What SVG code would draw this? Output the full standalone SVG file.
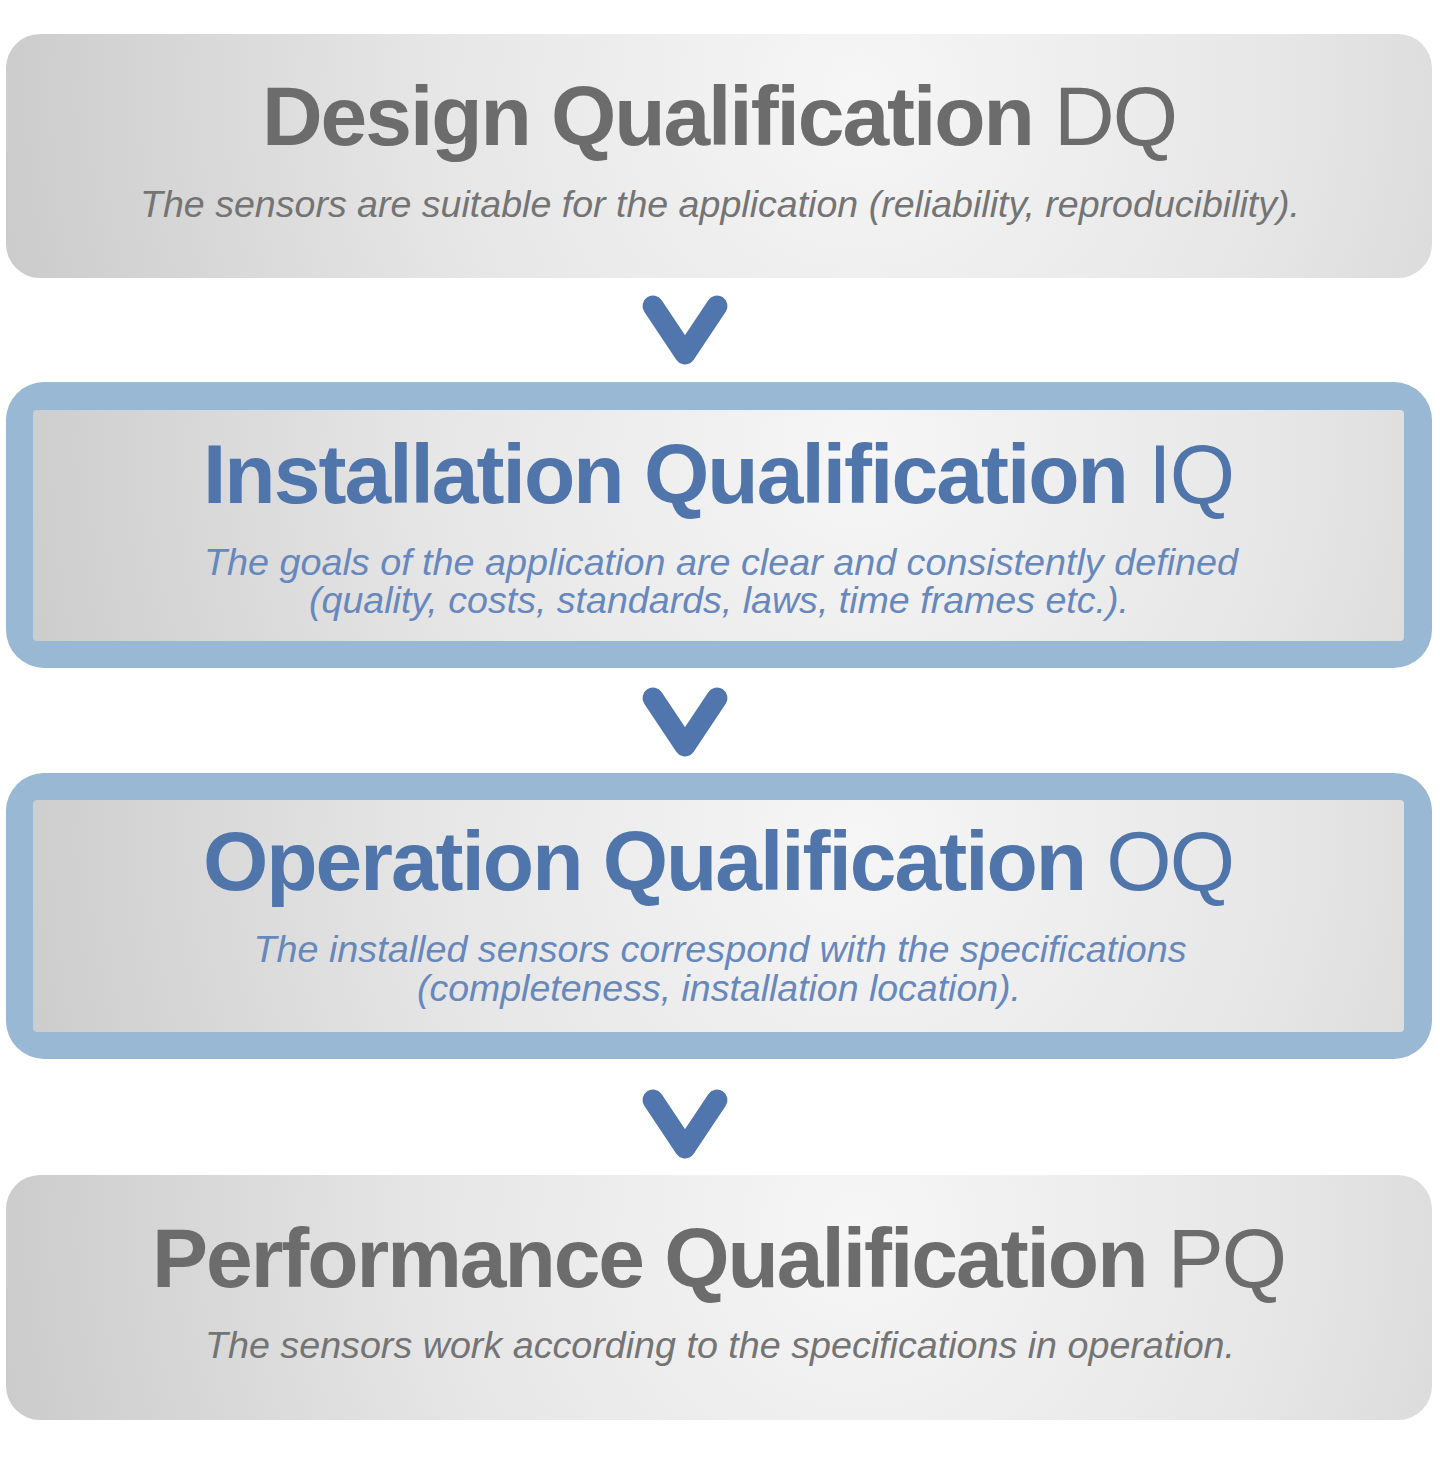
<svg xmlns="http://www.w3.org/2000/svg" width="1440" height="1457" viewBox="0 0 1440 1457">
<defs>
<radialGradient id="g1" gradientUnits="userSpaceOnUse" cx="860" cy="90" r="860">
<stop offset="0" stop-color="#f6f6f6"/>
<stop offset="0.5" stop-color="#e6e6e6"/>
<stop offset="1" stop-color="#cccccc"/>
</radialGradient>
<radialGradient id="g2" href="#g1" cx="860" cy="450" r="860"/>
<radialGradient id="g3" href="#g1" cx="860" cy="840" r="860"/>
<radialGradient id="g4" href="#g1" cx="860" cy="1230" r="860"/>
</defs>
<style>
.title{font-family:"Liberation Sans",Arial,Helvetica,sans-serif;font-size:84px;text-anchor:middle}
.b{font-weight:bold}
.r{font-weight:normal}
.sub{font-family:"Liberation Sans",Arial,Helvetica,sans-serif;font-size:36px;font-style:italic;text-anchor:middle}
.gray .title{fill:#6c6c6c}
.gray .sub{fill:#747474}
.blue .title{fill:#4f75ab}
.blue .sub{fill:#6788bd}
.frame{fill:#98b8d4}
.arrow{fill:none;stroke:#5176ad;stroke-width:21;stroke-linecap:round;stroke-linejoin:round}
</style>
<rect width="1440" height="1457" fill="#ffffff"/>

<g id="node-dq" class="gray">
<rect fill="url(#g1)" x="6" y="34" width="1426" height="244" rx="34"/>
<text class="title" x="720" y="145" textLength="916" lengthAdjust="spacing"><tspan class="b">Design Qualification </tspan><tspan class="r">DQ</tspan></text>
<text class="sub" x="720" y="217" textLength="1160" lengthAdjust="spacingAndGlyphs">The sensors are suitable for the application (reliability, reproducibility).</text>
</g>

<g id="node-iq" class="blue">
<rect class="frame" x="6" y="382" width="1426" height="286" rx="38"/>
<rect fill="url(#g2)" x="33" y="410" width="1371" height="231" rx="4"/>
<text class="title" x="719" y="503" textLength="1032" lengthAdjust="spacing"><tspan class="b">Installation Qualification </tspan><tspan class="r">IQ</tspan></text>
<text class="sub" x="721" y="575" textLength="1034" lengthAdjust="spacingAndGlyphs">The goals of the application are clear and consistently defined</text>
<text class="sub" x="719" y="613" textLength="820" lengthAdjust="spacingAndGlyphs">(quality, costs, standards, laws, time frames etc.).</text>
</g>

<g id="node-oq" class="blue">
<rect class="frame" x="6" y="773" width="1426" height="286" rx="38"/>
<rect fill="url(#g3)" x="33" y="800" width="1371" height="232" rx="4"/>
<text class="title" x="719" y="890" textLength="1032" lengthAdjust="spacing"><tspan class="b">Operation Qualification </tspan><tspan class="r">OQ</tspan></text>
<text class="sub" x="720" y="962" textLength="933" lengthAdjust="spacingAndGlyphs">The installed sensors correspond with the specifications</text>
<text class="sub" x="719" y="1001" textLength="604" lengthAdjust="spacingAndGlyphs">(completeness, installation location).</text>
</g>

<g id="node-pq" class="gray">
<rect fill="url(#g4)" x="6" y="1175" width="1426" height="245" rx="34"/>
<text class="title" x="719.5" y="1287" textLength="1135" lengthAdjust="spacing"><tspan class="b">Performance Qualification </tspan><tspan class="r">PQ</tspan></text>
<text class="sub" x="720" y="1358" textLength="1030" lengthAdjust="spacingAndGlyphs">The sensors work according to the specifications in operation.</text>
</g>

<g id="connectors">
<path class="arrow" d="M653 306 L685 354 L717 306"/>
<path class="arrow" d="M653 698 L685 746 L717 698"/>
<path class="arrow" d="M653 1100 L685 1148 L717 1100"/>
</g>
</svg>
